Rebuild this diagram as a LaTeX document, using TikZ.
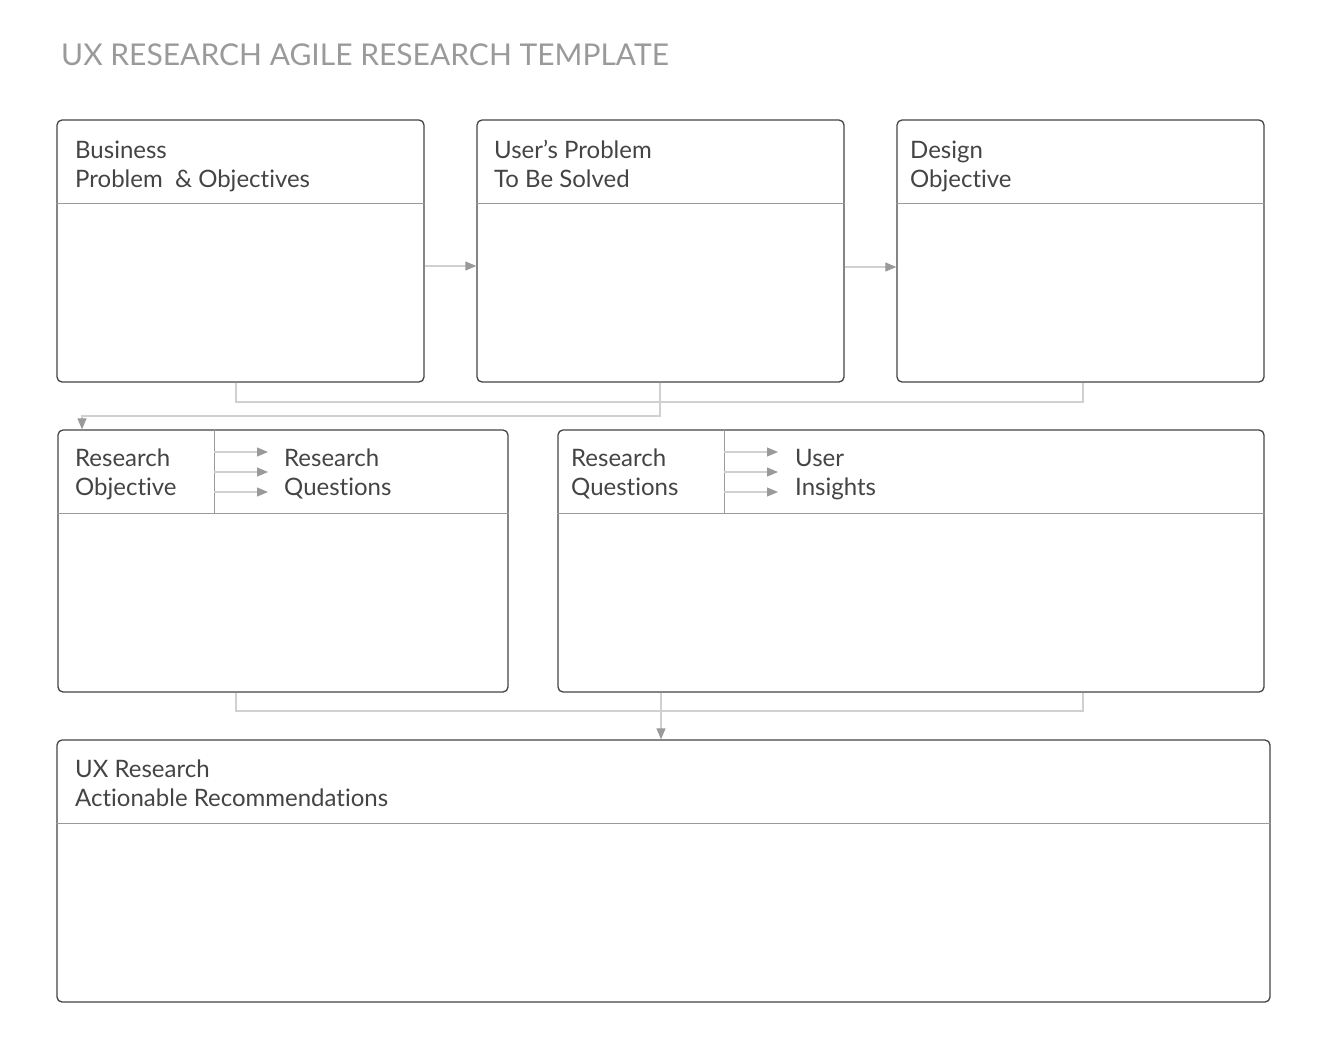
\documentclass[tikz,border=0pt]{standalone}
\usepackage{fontspec}
\setmainfont{Lato}[Ligatures={NoCommon}]
\usetikzlibrary{arrows.meta,calc}
\definecolor{boxline}{HTML}{444444}
\definecolor{hdrline}{HTML}{9A9A9A}
\definecolor{conn}{HTML}{D0D0D0}
\definecolor{tipc}{HTML}{9A9A9A}
\definecolor{txt}{HTML}{444444}
\definecolor{ttl}{HTML}{9A9A9A}
\tikzset{
  card/.style={draw=boxline,line width=1.3pt,rounded corners=5pt,rectangle,inner sep=0pt,minimum height=262pt},
  hdr/.style={draw=hdrline,line width=0.9pt},
  lbl/.style={anchor=base west,inner sep=0pt,align=left,text=txt,font=\fontsize{24}{29}\selectfont},
  flow/.style={draw=conn,line width=1.1pt,-{Triangle[length=11pt,width=9pt,color=tipc]}},
  link/.style={draw=conn,line width=1.1pt},
}
\begin{document}
\begin{tikzpicture}[x=1pt,y=-1pt]
\useasboundingbox (0,0) rectangle (1338,1045);
\node[anchor=base west,inner sep=0pt,text=ttl,font=\fontsize{30}{36}\selectfont] (title) at (61,65) {UX RESEARCH AGILE RESEARCH TEMPLATE};

% cards
\node[card,minimum width=367pt] (b1) at (240.5,251) {};
\node[card,minimum width=367pt] (b2) at (660.5,251) {};
\node[card,minimum width=367pt] (b3) at (1080.5,251) {};
\node[card,minimum width=450pt] (b4) at (283,561) {};
\node[card,minimum width=706pt] (b5) at (911,561) {};
\node[card,minimum width=1213pt] (b6) at (663.5,871) {};

% header lines
\foreach \b in {b1,b2,b3,b4,b5,b6}{
  \draw[hdr] ($(\b.north west)+(0,84)$) -- ($(\b.north east)+(0,84)$);
}
\draw[hdr] (214,430) -- (214,514);
\draw[hdr] (724,430) -- (724,514);

% labels (anchor = baseline of last line)
\node[lbl] (t1) at (75,187.5) {Business\\Problem \ \& Objectives};
\node[lbl] (t2) at (494,187.5) {User’s Problem\\To Be Solved};
\node[lbl] (t3) at (910,187.5) {Design\\Objective};
\node[lbl] (t4a) at (75,495.5) {Research\\Objective};
\node[lbl] (t4b) at (284,495.5) {Research\\Questions};
\node[lbl] (t5a) at (571,495.5) {Research\\Questions};
\node[lbl] (t5b) at (795,495.5) {User\\Insights};
\node[lbl] (t6) at (75,806.5) {UX Research\\Actionable Recommendations};

% horizontal flows
\draw[flow] (b1.east |- 0,266) -- (b2.west |- 0,266);
\draw[flow] (b2.east |- 0,267) -- (b3.west |- 0,267);

% inner arrows
\foreach \yy in {452,472,492}{
  \draw[flow] (214,\yy) -- (268,\yy);
  \draw[flow] (724,\yy) -- (778,\yy);
}

% connectors between rows
\coordinate (c1a) at (236,402);
\coordinate (c1b) at (1083,402);
\draw[link] (b1.south -| 236,0) -- (c1a) -- (c1b) -- (b3.south -| 1083,0);
\coordinate (c2a) at (660,416);
\coordinate (c2b) at (82,416);
\draw[flow] (b2.south -| 660,0) -- (c2a) -- (c2b) -- (b4.north -| 82,0);

\coordinate (c3a) at (236,711);
\coordinate (c3b) at (1083,711);
\draw[link] (b4.south -| 236,0) -- (c3a) -- (c3b) -- (b5.south -| 1083,0);
\draw[flow] (b5.south -| 661,0) -- (b6.north -| 661,0);
\end{tikzpicture}
\end{document}
